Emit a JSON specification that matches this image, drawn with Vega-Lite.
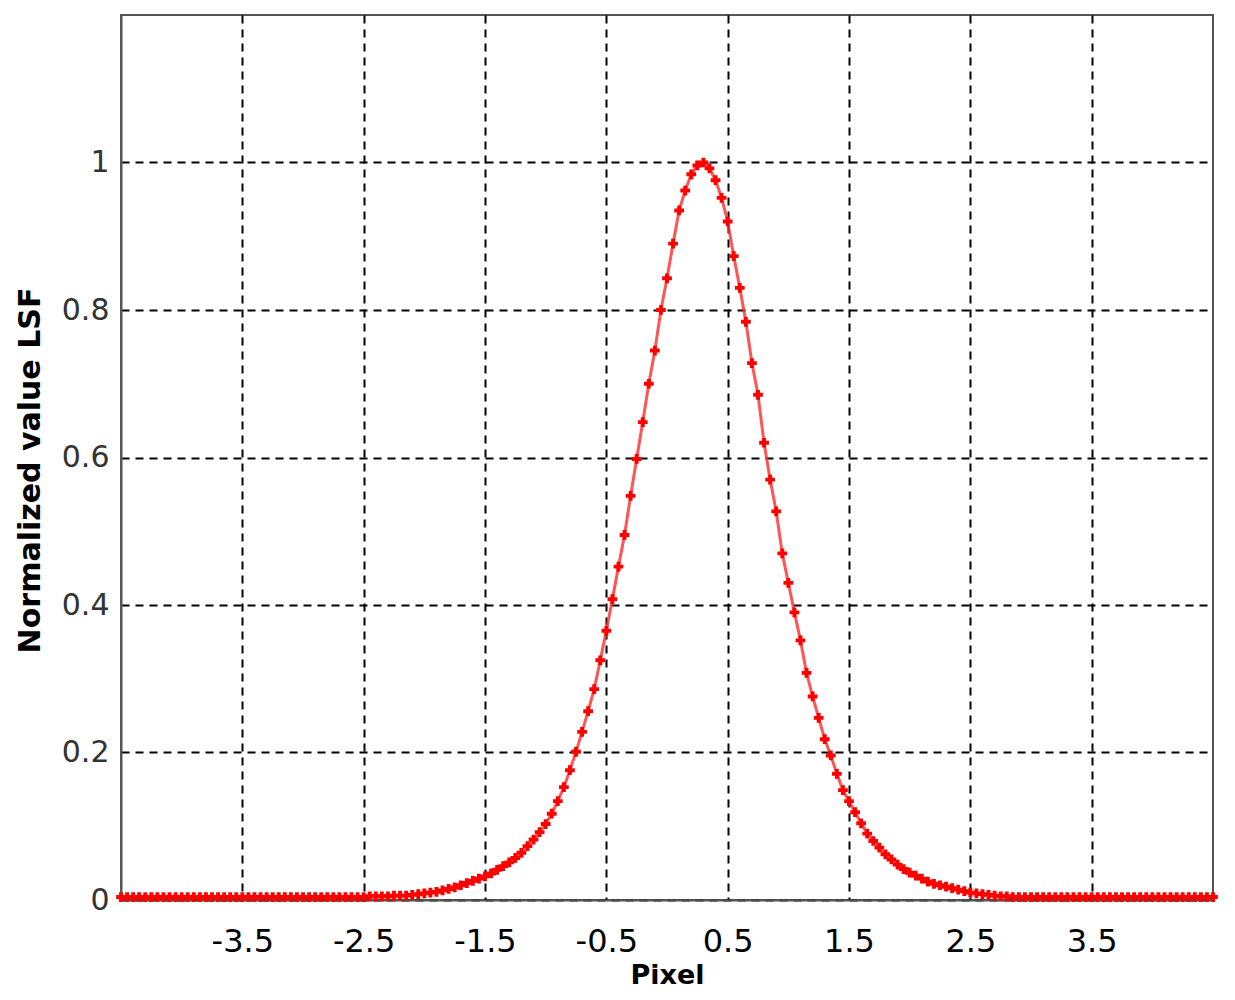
{
  "$schema": "https://vega.github.io/schema/vega-lite/v6.json",
  "width": 1092,
  "height": 885,
  "autosize": {"type": "none"},
  "padding": {"left": 121, "top": 15, "right": 22, "bottom": 100},
  "background": "white",
  "config": {
    "font": "DejaVu Sans",
    "view": {"stroke": "#555555", "strokeWidth": 2}
  },
  "data": {"values": [
    {"x": -4.5, "y": 0.004}, {"x": -4.45, "y": 0.004}, {"x": -4.4, "y": 0.004}, {"x": -4.35, "y": 0.004},
    {"x": -4.3, "y": 0.004}, {"x": -4.25, "y": 0.004}, {"x": -4.2, "y": 0.004}, {"x": -4.15, "y": 0.004},
    {"x": -4.1, "y": 0.004}, {"x": -4.05, "y": 0.004}, {"x": -4.0, "y": 0.004}, {"x": -3.95, "y": 0.004},
    {"x": -3.9, "y": 0.004}, {"x": -3.85, "y": 0.004}, {"x": -3.8, "y": 0.004}, {"x": -3.75, "y": 0.004},
    {"x": -3.7, "y": 0.004}, {"x": -3.65, "y": 0.004}, {"x": -3.6, "y": 0.004}, {"x": -3.55, "y": 0.004},
    {"x": -3.5, "y": 0.004}, {"x": -3.45, "y": 0.004}, {"x": -3.4, "y": 0.004}, {"x": -3.35, "y": 0.004},
    {"x": -3.3, "y": 0.004}, {"x": -3.25, "y": 0.004}, {"x": -3.2, "y": 0.004}, {"x": -3.15, "y": 0.004},
    {"x": -3.1, "y": 0.004}, {"x": -3.05, "y": 0.004}, {"x": -3.0, "y": 0.004}, {"x": -2.95, "y": 0.004},
    {"x": -2.9, "y": 0.004}, {"x": -2.85, "y": 0.004}, {"x": -2.8, "y": 0.004}, {"x": -2.75, "y": 0.004},
    {"x": -2.7, "y": 0.004}, {"x": -2.65, "y": 0.004}, {"x": -2.6, "y": 0.004}, {"x": -2.55, "y": 0.004},
    {"x": -2.5, "y": 0.004}, {"x": -2.45, "y": 0.005}, {"x": -2.4, "y": 0.005}, {"x": -2.35, "y": 0.005},
    {"x": -2.3, "y": 0.005}, {"x": -2.25, "y": 0.006}, {"x": -2.2, "y": 0.006}, {"x": -2.15, "y": 0.006},
    {"x": -2.1, "y": 0.007}, {"x": -2.05, "y": 0.008}, {"x": -2.0, "y": 0.009}, {"x": -1.95, "y": 0.010},
    {"x": -1.9, "y": 0.011}, {"x": -1.85, "y": 0.013}, {"x": -1.8, "y": 0.015}, {"x": -1.75, "y": 0.017},
    {"x": -1.7, "y": 0.020}, {"x": -1.65, "y": 0.023}, {"x": -1.6, "y": 0.026}, {"x": -1.55, "y": 0.029},
    {"x": -1.5, "y": 0.032}, {"x": -1.45, "y": 0.036}, {"x": -1.4, "y": 0.041}, {"x": -1.35, "y": 0.046},
    {"x": -1.3, "y": 0.051}, {"x": -1.25, "y": 0.057}, {"x": -1.2, "y": 0.064}, {"x": -1.15, "y": 0.073},
    {"x": -1.1, "y": 0.082}, {"x": -1.05, "y": 0.092}, {"x": -1.0, "y": 0.103}, {"x": -0.95, "y": 0.117},
    {"x": -0.9, "y": 0.134}, {"x": -0.85, "y": 0.153}, {"x": -0.8, "y": 0.176}, {"x": -0.75, "y": 0.201},
    {"x": -0.7, "y": 0.228}, {"x": -0.65, "y": 0.256}, {"x": -0.6, "y": 0.286}, {"x": -0.55, "y": 0.325},
    {"x": -0.5, "y": 0.365}, {"x": -0.45, "y": 0.408}, {"x": -0.4, "y": 0.452}, {"x": -0.35, "y": 0.495},
    {"x": -0.3, "y": 0.548}, {"x": -0.25, "y": 0.598}, {"x": -0.2, "y": 0.648}, {"x": -0.15, "y": 0.700},
    {"x": -0.1, "y": 0.745}, {"x": -0.05, "y": 0.800}, {"x": 0.0, "y": 0.843}, {"x": 0.05, "y": 0.890},
    {"x": 0.1, "y": 0.935}, {"x": 0.15, "y": 0.962}, {"x": 0.2, "y": 0.984}, {"x": 0.25, "y": 0.996},
    {"x": 0.3, "y": 1.000}, {"x": 0.35, "y": 0.992}, {"x": 0.4, "y": 0.976}, {"x": 0.45, "y": 0.952},
    {"x": 0.5, "y": 0.920}, {"x": 0.55, "y": 0.873}, {"x": 0.6, "y": 0.830}, {"x": 0.65, "y": 0.784},
    {"x": 0.7, "y": 0.728}, {"x": 0.75, "y": 0.685}, {"x": 0.8, "y": 0.620}, {"x": 0.85, "y": 0.570},
    {"x": 0.9, "y": 0.527}, {"x": 0.95, "y": 0.470}, {"x": 1.0, "y": 0.430}, {"x": 1.05, "y": 0.390},
    {"x": 1.1, "y": 0.352}, {"x": 1.15, "y": 0.308}, {"x": 1.2, "y": 0.276}, {"x": 1.25, "y": 0.247},
    {"x": 1.3, "y": 0.218}, {"x": 1.35, "y": 0.196}, {"x": 1.4, "y": 0.171}, {"x": 1.45, "y": 0.149},
    {"x": 1.5, "y": 0.134}, {"x": 1.55, "y": 0.119}, {"x": 1.6, "y": 0.104}, {"x": 1.65, "y": 0.090},
    {"x": 1.7, "y": 0.080}, {"x": 1.75, "y": 0.071}, {"x": 1.8, "y": 0.062}, {"x": 1.85, "y": 0.055},
    {"x": 1.9, "y": 0.048}, {"x": 1.95, "y": 0.042}, {"x": 2.0, "y": 0.037}, {"x": 2.05, "y": 0.033},
    {"x": 2.1, "y": 0.029}, {"x": 2.15, "y": 0.025}, {"x": 2.2, "y": 0.022}, {"x": 2.25, "y": 0.020},
    {"x": 2.3, "y": 0.018}, {"x": 2.35, "y": 0.016}, {"x": 2.4, "y": 0.014}, {"x": 2.45, "y": 0.012},
    {"x": 2.5, "y": 0.010}, {"x": 2.55, "y": 0.009}, {"x": 2.6, "y": 0.008}, {"x": 2.65, "y": 0.007},
    {"x": 2.7, "y": 0.006}, {"x": 2.75, "y": 0.005}, {"x": 2.8, "y": 0.005}, {"x": 2.85, "y": 0.004},
    {"x": 2.9, "y": 0.004}, {"x": 2.95, "y": 0.004}, {"x": 3.0, "y": 0.004}, {"x": 3.05, "y": 0.004},
    {"x": 3.1, "y": 0.004}, {"x": 3.15, "y": 0.004}, {"x": 3.2, "y": 0.004}, {"x": 3.25, "y": 0.004},
    {"x": 3.3, "y": 0.004}, {"x": 3.35, "y": 0.004}, {"x": 3.4, "y": 0.004}, {"x": 3.45, "y": 0.004},
    {"x": 3.5, "y": 0.004}, {"x": 3.55, "y": 0.004}, {"x": 3.6, "y": 0.004}, {"x": 3.65, "y": 0.004},
    {"x": 3.7, "y": 0.004}, {"x": 3.75, "y": 0.004}, {"x": 3.8, "y": 0.004}, {"x": 3.85, "y": 0.004},
    {"x": 3.9, "y": 0.004}, {"x": 3.95, "y": 0.004}, {"x": 4.0, "y": 0.004}, {"x": 4.05, "y": 0.004},
    {"x": 4.1, "y": 0.004}, {"x": 4.15, "y": 0.004}, {"x": 4.2, "y": 0.004}, {"x": 4.25, "y": 0.004},
    {"x": 4.3, "y": 0.004}, {"x": 4.35, "y": 0.004}, {"x": 4.4, "y": 0.004}, {"x": 4.45, "y": 0.004},
    {"x": 4.5, "y": 0.004}
  ]},
  "encoding": {
    "x": {
      "field": "x", "type": "quantitative",
      "scale": {"domain": [-4.5, 4.5], "nice": false, "zero": false},
      "axis": {
        "title": "Pixel",
        "values": [-3.5, -2.5, -1.5, -0.5, 0.5, 1.5, 2.5, 3.5],
        "labelExpr": "'' + datum.value",
        "labelFontSize": 32, "labelColor": "#000000", "labelPadding": 26,
        "labelFont": "DejaVu Sans",
        "ticks": false,
        "domainColor": "#555555", "domainWidth": 2,
        "grid": true, "gridColor": "#000000", "gridDash": [8, 6], "gridWidth": 2, "gridOpacity": 1,
        "titleFontSize": 27, "titleFontWeight": "bold", "titleColor": "#000000",
        "titleY": 62, "titleBaseline": "top"
      }
    },
    "y": {
      "field": "y", "type": "quantitative",
      "scale": {"domain": [0, 1.2], "nice": false},
      "axis": {
        "title": "Normalized value LSF",
        "values": [0, 0.2, 0.4, 0.6, 0.8, 1],
        "labelExpr": "'' + datum.value",
        "labelFontSize": 30, "labelColor": "#333333", "labelPadding": 12,
        "labelFont": "DejaVu Sans",
        "tickSize": 0,
        "domainColor": "#555555", "domainWidth": 2,
        "grid": true, "gridColor": "#000000", "gridDash": [8, 6], "gridWidth": 2, "gridOpacity": 1,
        "titleFontSize": 30, "titleFontWeight": "bold", "titleColor": "#000000",
        "titlePadding": 16, "titleY": 455
      }
    }
  },
  "layer": [
    {"mark": {"type": "line", "color": "#ff2a2a", "strokeWidth": 3, "opacity": 0.8}},
    {"mark": {"type": "point", "shape": "cross", "filled": true, "color": "#ff0000", "size": 95, "opacity": 1}}
  ]
}
